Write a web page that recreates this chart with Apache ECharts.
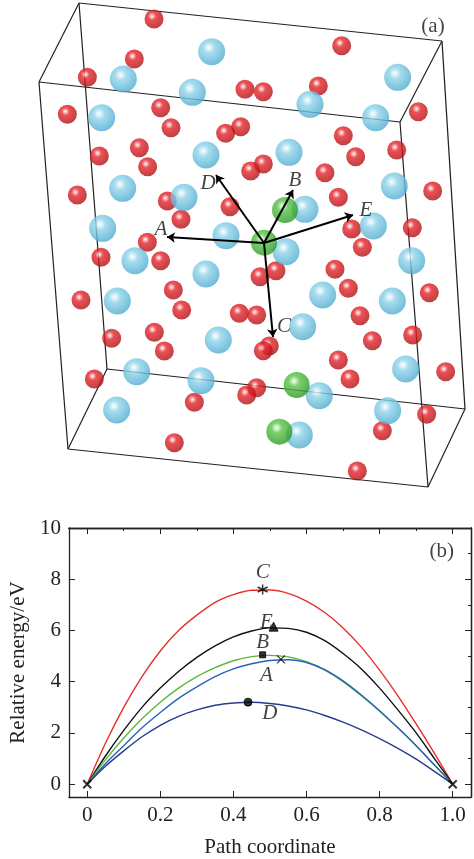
<!DOCTYPE html>
<html><head><meta charset="utf-8">
<script src="https://cdn.jsdelivr.net/npm/echarts@6/dist/echarts.min.js"></script>
<style>html,body{margin:0;padding:0;background:#fff}#c{width:474px;height:859px}</style>
</head><body><div id="c"></div>
<script>
// ---- panel (a): atom positions in picture pixels (x, y from top)
const redAtoms=[[462,57],[1025,137],[403,177],[262,232],[955,258],[735,268],[790,275],[202,343],[482,323],[1255,335],[513,383],[722,380],[677,400],[1030,407],[418,443],[1190,450],[1067,470],[298,468],[443,500],[790,492],[752,513],[975,518],[232,585],[1298,573],[1015,592],[502,603],[690,620],[543,658],[1055,687],[1237,683],[1087,742],[442,727],[303,772],[482,782],[1005,808],[780,830],[828,812],[1045,865],[520,870],[243,900],[1288,878],[545,930],[718,940],[770,945],[1080,947],[463,997],[335,1015],[1117,1022],[1238,1005],[808,1038],[790,1052],[493,1053],[1015,1080],[1337,1115],[283,1137],[1050,1137],[770,1163],[740,1185],[583,1207],[1280,1243],[1147,1292],[523,1328],[1072,1413]].map(p=>[p[0]/3,p[1]/3]);
const blueAtoms=[[635,155],[1193,232],[370,237],[577,277],[930,313],[305,353],[1127,353],[618,465],[867,457],[368,565],[552,592],[1183,558],[915,628],[308,685],[678,707],[1120,678],[858,755],[405,782],[1235,782],[618,822],[968,885],[352,903],[1177,903],[908,980],[655,1020],[410,1115],[603,1142],[1217,1107],[958,1187],[350,1230],[1163,1232],[898,1305]].map(p=>[p[0]/3,p[1]/3]);
const greenAtoms=[[855,630],[792,728],[890,1155],[838,1295]].map(p=>[p[0]/3,p[1]/3]);
const boxBack=[[79,3],[442,41],[465,409],[107,369]];
const boxFront=[[39,82],[400,122],[428,487],[68,449]];
const arrowStart=[264,243];
const arrowNames=['A','D','B','E','C'];
const arrowEnds=[[167,237],[216,175],[293,190],[353,215],[273,337]];
const arrowLabelPos=[[161,229],[208,183],[295,180],[366,210],[284,326]];

// ---- panel (b): energy profiles
const xs=[0,0.05,0.1,0.15,0.2,0.25,0.3,0.35,0.4,0.45,0.5,0.55,0.6,0.65,0.7,0.75,0.8,0.85,0.9,0.95,1.0];
const energyC=[0,1.6,3.0,4.2,5.2,6.0,6.6,7.1,7.4,7.57,7.58,7.45,7.15,6.7,6.1,5.35,4.45,3.45,2.35,1.2,0];
const energyE=[0,1.1,2.1,3.0,3.75,4.4,4.95,5.4,5.75,5.98,6.1,6.08,5.93,5.6,5.1,4.5,3.75,2.9,2.0,1.0,0];
const energyB=[0,0.95,1.8,2.55,3.2,3.75,4.2,4.55,4.82,4.98,5.03,4.97,4.78,4.45,4.0,3.45,2.85,2.2,1.5,0.75,0];
const energyA=[0,0.8,1.5,2.2,2.8,3.35,3.8,4.2,4.5,4.7,4.83,4.86,4.75,4.47,4.03,3.48,2.87,2.2,1.5,0.75,0];
const energyD=[0,0.7,1.3,1.85,2.3,2.65,2.9,3.08,3.17,3.2,3.15,3.05,2.9,2.68,2.42,2.12,1.78,1.4,0.98,0.5,0];
const saddle={C:[0.48,7.6],E:[0.51,6.15],B:[0.48,5.05],A:[0.53,4.87],D:[0.44,3.2]};
const labelPos={C:[0.48,8.25],E:[0.49,6.3],B:[0.48,5.55],A:[0.49,4.25],D:[0.5,2.75]};
const xTicks=[0,0.2,0.4,0.6,0.8,1.0];
const xMinor=[0.1,0.3,0.5,0.7,0.9];
const yTicks=[0,2,4,6,8,10];
const yMinor=[1,3,5,7,9];

const serif='Liberation Serif';
const starPath='path://M0,-10L0,10M-8.7,-5L8.7,5M-8.7,5L8.7,-5';
const xPath='path://M-8,-8L8,8M-8,8L8,-8';
const pair=a=>xs.map((x,i)=>[x,a[i]]);

const chart=echarts.init(document.getElementById('c'));
const boxEdges=[];
for(let i=0;i<4;i++){boxEdges.push([boxBack[i],boxBack[(i+1)%4]]);boxEdges.push([boxFront[i],boxFront[(i+1)%4]]);boxEdges.push([boxBack[i],boxFront[i]]);}
const atomStyle=(c1,c2)=>({color:new echarts.graphic.RadialGradient(0.4,0.35,0.7,[{offset:0,color:'#fff'},{offset:0.3,color:c1},{offset:1,color:c2}])});
const valAx=(gi,extra)=>Object.assign({type:'value',gridIndex:gi},extra);
const hidden={show:false};
const bAxisLine={show:true,onZero:false,lineStyle:{color:'#222',width:1.3}};
const fs=21;
chart.setOption({
  animation:false,
  grid:[{left:0,top:0,width:474,height:490},{left:65,right:3,top:528,bottom:57}],
  xAxis:[
    valAx(0,{min:0,max:474,show:false}),
    valAx(1,{min:-0.05,max:1.05,axisLine:bAxisLine,splitLine:hidden,axisTick:{inside:true,length:6,customValues:xTicks,lineStyle:{color:'#222'}},axisLabel:{customValues:xTicks,formatter:v=>v===0?'0':v.toFixed(1),fontFamily:serif,fontSize:fs,color:'#222',margin:8},name:'Path coordinate',nameLocation:'middle',nameGap:40,nameTextStyle:{fontFamily:serif,fontSize:fs,color:'#222'}}),
    valAx(1,{min:-0.05,max:1.05,axisLine:bAxisLine,splitLine:hidden,axisTick:{inside:true,length:3,customValues:xMinor,lineStyle:{color:'#222'}},axisLabel:hidden}),
    valAx(1,{min:-0.05,max:1.05,position:'top',axisLine:bAxisLine,splitLine:hidden,axisTick:{inside:true,length:6,customValues:xTicks,lineStyle:{color:'#222'}},axisLabel:hidden})
  ],
  yAxis:[
    valAx(0,{min:0,max:490,inverse:true,show:false}),
    valAx(1,{min:-0.5,max:10,axisLine:bAxisLine,splitLine:hidden,axisTick:{inside:true,length:6,customValues:yTicks,lineStyle:{color:'#222'}},axisLabel:{customValues:yTicks,fontFamily:serif,fontSize:fs,color:'#222',margin:8},name:'Relative energy/eV',nameLocation:'middle',nameGap:37,nameTextStyle:{fontFamily:serif,fontSize:fs,color:'#222'}}),
    valAx(1,{min:-0.5,max:10,axisLine:bAxisLine,splitLine:hidden,axisTick:{inside:true,length:3,customValues:yMinor,lineStyle:{color:'#222'}},axisLabel:hidden}),
    valAx(1,{min:-0.5,max:10,position:'right',axisLine:bAxisLine,splitLine:hidden,axisTick:{inside:true,length:6,customValues:yTicks,lineStyle:{color:'#222'}},axisLabel:hidden})
  ],
  series:[
    {type:'lines',coordinateSystem:'cartesian2d',xAxisIndex:0,yAxisIndex:0,data:boxEdges.map(c=>({coords:c})),lineStyle:{color:'#222',width:1.2,opacity:1},z:1},
    {type:'scatter',xAxisIndex:0,yAxisIndex:0,data:redAtoms,symbolSize:19,itemStyle:atomStyle('#e8242a','#a80f12'),z:2},
    {type:'scatter',xAxisIndex:0,yAxisIndex:0,data:blueAtoms,symbolSize:27,itemStyle:atomStyle('#8fd3ea','#4aa8cc'),z:2},
    {type:'scatter',xAxisIndex:0,yAxisIndex:0,data:greenAtoms,symbolSize:26,itemStyle:atomStyle('#55c444','#2e9224'),z:3},
    {type:'lines',coordinateSystem:'cartesian2d',xAxisIndex:0,yAxisIndex:0,data:arrowEnds.map(e=>({coords:[arrowStart,e]})),symbol:['none','arrow'],symbolSize:8,lineStyle:{color:'#000',width:2,opacity:1},z:4},
    {type:'scatter',xAxisIndex:0,yAxisIndex:0,data:arrowLabelPos.map((p,i)=>({value:p,name:arrowNames[i]})),symbolSize:0,label:{show:true,position:'inside',formatter:'{b}',fontFamily:serif,fontStyle:'italic',fontSize:fs,color:'#111'},z:5},
    {type:'scatter',xAxisIndex:0,yAxisIndex:0,data:[{value:[433,26],name:'(a)'}],symbolSize:0,label:{show:true,position:'inside',formatter:'{b}',fontFamily:serif,fontSize:fs,color:'#111'},z:5},
    ...[['C',energyC,'#e8302a'],['E',energyE,'#111'],['B',energyB,'#5cb83a'],['A',energyA,'#2a62b8'],['D',energyD,'#2a3a8c']].map(([n,d,c])=>({type:'line',xAxisIndex:1,yAxisIndex:1,data:pair(d),smooth:0.3,showSymbol:false,lineStyle:{color:c,width:1.4},z:3})),
    {type:'scatter',xAxisIndex:1,yAxisIndex:1,z:6,itemStyle:{color:'#000',borderColor:'#000'},data:[
      {value:saddle.C,symbol:starPath,symbolSize:10,itemStyle:{borderWidth:1.5}},
      {value:saddle.E,symbol:'triangle',symbolSize:9},
      {value:saddle.B,symbol:'rect',symbolSize:6},
      {value:saddle.A,symbol:xPath,symbolSize:8,itemStyle:{borderWidth:1.2}},
      {value:saddle.D,symbol:'circle',symbolSize:8},
      {value:[0,0],symbol:xPath,symbolSize:8,itemStyle:{borderWidth:2}},
      {value:[1,0],symbol:xPath,symbolSize:8,itemStyle:{borderWidth:2}}]},
    {type:'scatter',xAxisIndex:1,yAxisIndex:1,symbolSize:0,z:7,data:Object.keys(labelPos).map(k=>({value:labelPos[k],name:k})),label:{show:true,position:'inside',formatter:'{b}',fontFamily:serif,fontStyle:'italic',fontSize:fs,color:'#111'}},
    {type:'scatter',xAxisIndex:1,yAxisIndex:1,symbolSize:0,z:7,data:[{value:[0.97,9.1],name:'(b)'}],label:{show:true,position:'inside',formatter:'{b}',fontFamily:serif,fontSize:fs,color:'#111'}}
  ]
});
</script></body></html>
